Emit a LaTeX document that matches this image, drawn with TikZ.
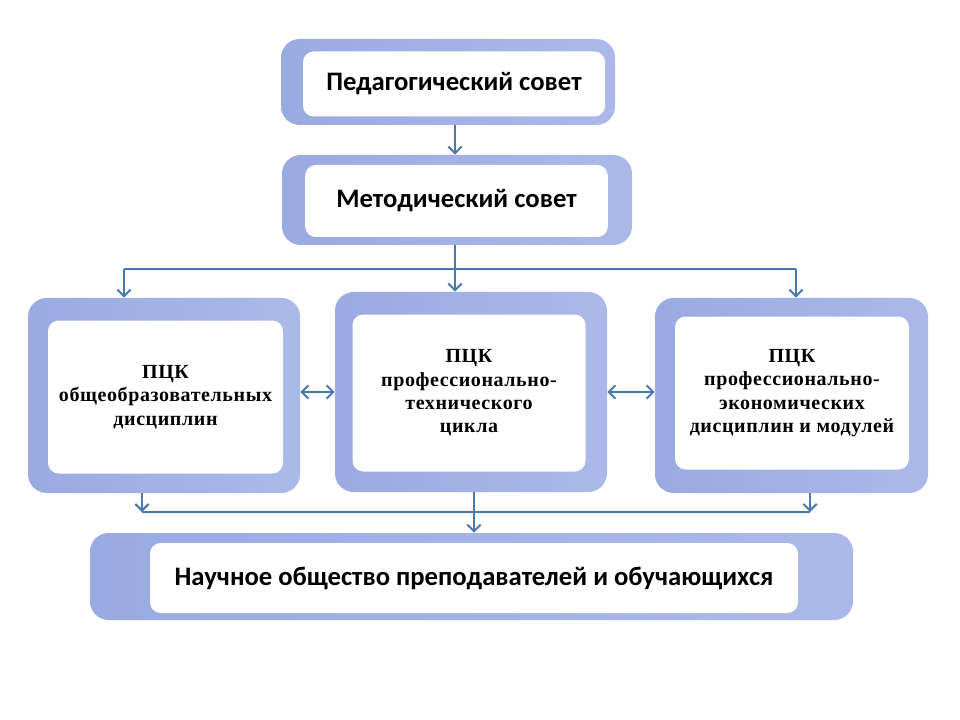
\documentclass[tikz,border=0pt]{standalone}
\usepackage{fontspec}
\usepackage{xcolor}
\usepackage{tikz}
\usetikzlibrary{arrows.meta, positioning, calc}
\newfontfamily\headfont{Carlito}
\newfontfamily\pckfont{Liberation Serif}[LetterSpace=3]
\definecolor{frameblue}{HTML}{ABB9EA}
\definecolor{frameedge}{HTML}{9AAAE2}
\definecolor{linkblue}{HTML}{4A78AE}

\begin{document}
\begin{tikzpicture}[
x=0.75pt, y=-0.75pt,
frame/.style={rectangle, rounded corners=14pt, inner sep=0pt, left color=frameedge, right color=frameblue, shading angle=90},
pane/.style={rectangle, rounded corners=8pt, fill=white, inner sep=0pt, align=center},
headtext/.style={font=\headfont\bfseries\fontsize{20}{24}\selectfont},
pcktext/.style={font=\pckfont\bfseries\fontsize{15}{17.5}\selectfont},
arrow/.style={-{Straight Barb[length=5pt,width=10pt]}, line width=1.5pt, draw=linkblue},
dbl/.style={{Straight Barb[length=5pt,width=10pt]}-{Straight Barb[length=5pt,width=10pt]}, line width=1.5pt, draw=linkblue},
link/.style={line width=1.5pt, draw=linkblue}
]
\useasboundingbox[fill=white] (0,0) rectangle (960,720);

% frames
\node[frame, minimum width=250.5pt, minimum height=64.5pt] (ped) at (448,82) {};
\node[frame, minimum width=262.5pt, minimum height=67.5pt] (met) at (457,200) {};
\node[frame, minimum width=204pt, minimum height=146.25pt] (pckl) at (164,395.5) {};
\node[frame, minimum width=204pt, minimum height=150pt] (pckm) at (471,392) {};
\node[frame, minimum width=204.75pt, minimum height=146.25pt] (pckr) at (791.5,395.5) {};
\node[frame, minimum width=572.25pt, minimum height=65.25pt] (soc) at (471.5,576.5) {};

% white panes with texts
\node[pane, headtext, minimum width=226.5pt, minimum height=48.75pt] (pedtext) at (454,84) {Педагогический совет};
\node[pane, headtext, minimum width=227pt, minimum height=54pt] (mettext) at (456.5,201) {Методический совет};
\node[pane, pcktext, minimum width=176.25pt, minimum height=114.75pt] (pckltext) at (165.5,397) {ПЦК\\общеобразовательных\\дисциплин};
\node[pane, pcktext, minimum width=174.75pt, minimum height=117.75pt] (pckmtext) at (469,393) {ПЦК\\профессионально-\\технического\\цикла};
\node[pane, pcktext, minimum width=175.5pt, minimum height=114.75pt] (pckrtext) at (792,393) {ПЦК\\профессионально-\\экономических\\дисциплин и модулей};
\node[pane, headtext, minimum width=486pt, minimum height=52.5pt] (soctext) at (474,578) {Научное общество преподавателей и обучающихся};

% junctions
\coordinate (split) at (455,269);
\coordinate (lbranch) at (124,269);
\coordinate (rbranch) at (796,269);
\coordinate (ljoin) at (142,512);
\coordinate (mjoin) at (474,512);
\coordinate (rjoin) at (810,512);

% connectors
\draw[arrow] (ped.south -| split) -- (met.north -| split);
\draw[link] (met.south -| split) -- (split);
\draw[link] (lbranch) -- (rbranch);
\draw[arrow] (lbranch) -- (lbranch |- pckl.north);
\draw[arrow] (split) -- (split |- pckm.north);
\draw[arrow] (rbranch) -- (rbranch |- pckr.north);
\draw[dbl] (pckm.west -| pckl.east) -- (pckm.west);
\draw[dbl] (pckm.east) -- (pckm.east -| pckr.west);
\draw[link] (ljoin) -- (rjoin);
\draw[arrow] (ljoin |- pckl.south) -- (ljoin);
\draw[arrow] (rjoin |- pckr.south) -- (rjoin);
\draw[arrow] (mjoin |- pckm.south) -- (mjoin |- soc.north);

\end{tikzpicture}
\end{document}
